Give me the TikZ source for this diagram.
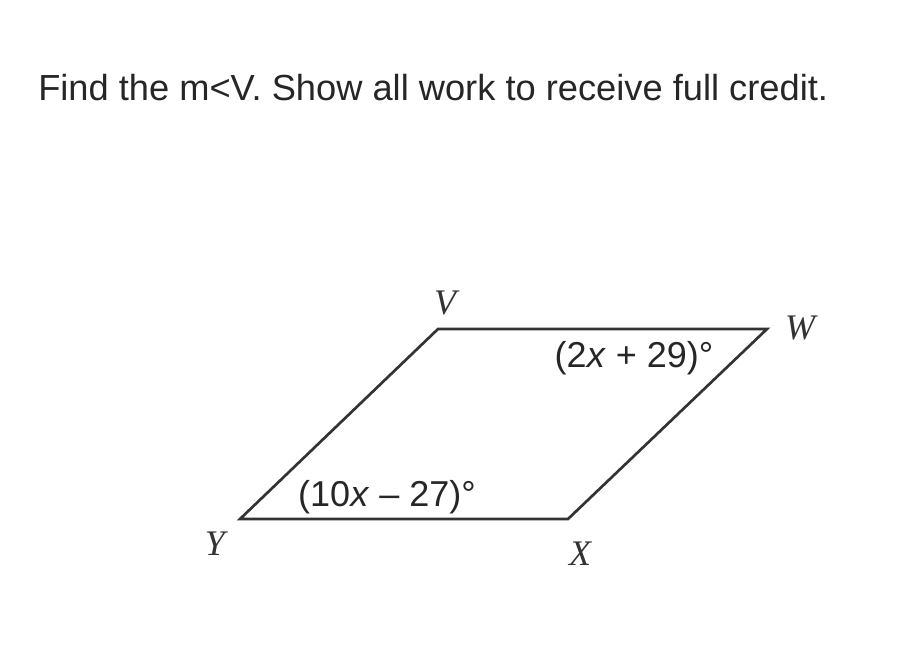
\documentclass[tikz,border=0pt]{standalone}
\usepackage{fontspec}
\setmainfont{Liberation Serif}
\setsansfont{Liberation Sans}
\begin{document}
\begin{tikzpicture}[x=0.75pt,y=-0.75pt,
  edge/.style={draw=black!80,line width=2pt,line join=miter},
  vlabel/.style={font=\fontsize{27}{27}\selectfont\itshape,text=black!80,inner sep=0pt},
  anglelabel/.style={font=\sffamily\fontsize{27}{27}\selectfont,text=black!85,inner sep=0pt},
  title/.style={font=\sffamily\fontsize{27.2}{27.2}\selectfont,text=black!85,inner sep=0pt,anchor=west}]
\useasboundingbox (0,0) rectangle (908,672);
\coordinate (V) at (438,329);
\coordinate (W) at (767,329);
\coordinate (X) at (568,519);
\coordinate (Y) at (240,519);
\draw[edge] (V) -- (W) -- (X) -- (Y) -- cycle;
\node[title] (t) at (38,88) {Find the m<V. Show all work to receive full credit.};
\node[vlabel] (lv) at (445,303) {V};
\node[vlabel] (lw) at (800,328) {W};
\node[vlabel] (lx) at (580,554) {X};
\node[vlabel] (ly) at (215,544) {Y};
\node[anglelabel] (a1) at (634,358) {(2\textit{x} + 29)°};
\node[anglelabel] (a2) at (387,497) {(10\textit{x} – 27)°};
\end{tikzpicture}
\end{document}
